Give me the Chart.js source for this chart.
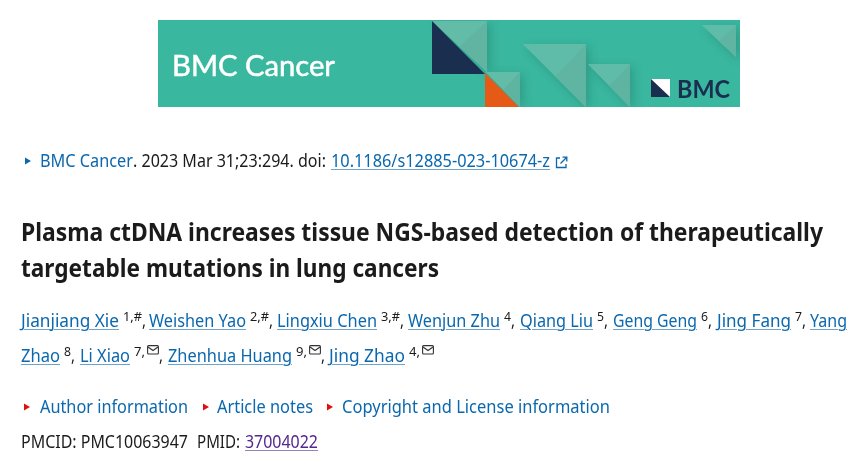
<!DOCTYPE html>
<html><head><meta charset="utf-8">
<style>
html,body{margin:0;padding:0;background:#fff;width:865px;height:456px;overflow:hidden}
#wrap{position:absolute;left:158px;top:20px;width:582px;height:87px;filter:blur(.35px)}
canvas{display:block}
.t{position:absolute;white-space:pre;transform-origin:0 0;font-family:"Noto Sans";color:#1b1b1b;font-size:17.5px;filter:blur(.25px)}
.l{color:#0b68ae}.u{text-decoration:underline;text-decoration-color:#6fa3cb;text-decoration-thickness:1px;text-underline-offset:2px}
.v{color:#54278f;text-decoration-color:#9a7fc0}
.b{font-weight:700;font-size:24.5px}.s{font-size:12.5px}
.w{color:#fff;font-family:Lato;font-size:29px;-webkit-text-stroke:.5px #fff}.n{color:#1a2e50;font-family:Lato;font-weight:700;font-size:25px}
svg{position:absolute}
</style></head><body>
<div id="wrap"><canvas id="c" width="582" height="87"></canvas></div>
<script src="https://cdn.jsdelivr.net/npm/chart.js@4"></script>
<script>
// Banner shapes, in banner units
const lightTop=[[274,1],[329,1],[329,52]];
const darkTop=[[329,1],[329,52],[302,26]];
const navy=[[274,1],[274,54],[327,54]];
const lightSmall=[[328,52],[362,52],[362,87]];
const darkSmall=[[362,52],[362,87],[345,70]];
const orange=[[327,53],[327,87],[361,87]];
const lightB=[[365,24],[428,24],[428,87]];
const darkB=[[428,24],[428,87],[397,56]];
const lightC=[[430,44],[472,44],[472,87]];
const darkC=[[472,44],[472,87],[451,66]];
const lightD=[[544,5],[578,5],[578,37]];
const darkD=[[578,5],[578,37],[561,21]];
const logoWhite=[[493,59],[512,59],[512,77],[493,77]];
const logoNavy=[[493,59],[493,77],[512,77]];
// Paint order, back to front; the chart paints the first dataset last
const shapes=[
 [lightTop,'#63bca8',1],[darkTop,'#61b4a1',0],[navy,'#1a2e50',0],
 [lightB,'#5fbca8',1],[darkB,'#5fb5a2',0],[lightC,'#5fbca8',1],[darkC,'#5fb4a1',0],
 [lightD,'#5fbca8',1],[darkD,'#5fb5a2',0],[lightSmall,'#63bca8',1],[darkSmall,'#5fb4a1',0],[orange,'#e55a17',0],
 [logoWhite,'#ffffff',0],[logoNavy,'#1a2e50',0]
].reverse();
const softShadow={id:'softShadow',
 beforeDraw(c){const x=c.ctx;x.fillStyle='#3ab79f';x.fillRect(0,0,582,87);
  x.save();x.shadowColor='rgba(20,90,75,.3)';x.shadowBlur=10;x.shadowOffsetX=3;x.shadowOffsetY=3;x.fillStyle='#5fbca8';
  shapes.filter(s=>s[2]).forEach(([pts])=>{x.beginPath();pts.forEach((p,i)=>{const a=c.scales.x.getPixelForValue(p[0]),b=c.scales.y.getPixelForValue(p[1]);i?x.lineTo(a,b):x.moveTo(a,b);});x.closePath();x.fill();});
  x.restore();}};
new Chart(document.getElementById('c'),{type:'scatter',
 data:{datasets:shapes.map(([pts,col])=>({data:pts.concat([pts[0]]).map(p=>({x:p[0],y:p[1]})),showLine:true,fill:'shape',backgroundColor:col,borderColor:col,borderWidth:0,pointRadius:0,tension:0}))},
 options:{responsive:false,animation:false,layout:{padding:0},
  plugins:{legend:{display:false},tooltip:{enabled:false}},
  scales:{x:{display:false,min:0,max:582},y:{display:false,min:0,max:87,reverse:true}}},
 plugins:[softShadow]});

// Text runs: text, left, baseline, width, classes
const runs=[
["BMC Cancer",172,76,163,"w"],["BMC",677,98,53,"n"],
["BMC Cancer",40,167,93,"l"],[". 2023 Mar 31;23:294. doi:",133,167,193,""],["10.1186/s12885-023-10674-z",331,167,219,"l u"],
["Plasma ctDNA increases tissue NGS-based detection of therapeutically",21,241,802,"b"],
["targetable mutations in lung cancers",21,277,418,"b"],
["Jianjiang Xie",21,327,98,"l u"],["1,#",123,321,19,"s"],[",",142,327,4,""],
["Weishen Yao",149,327,97,"l u"],["2,#",250,321,19,"s"],[",",269,327,4,""],
["Lingxiu Chen",277,327,100,"l u"],["3,#",381,321,19,"s"],[",",400,327,4,""],
["Wenjun Zhu",408,327,92,"l u"],["4",504,321,7,"s"],[",",511,327,4,""],
["Qiang Liu",520,327,73,"l u"],["5",597,321,7,"s"],[",",604,327,4,""],
["Geng Geng",613,327,84,"l u"],["6",701,321,7,"s"],[",",708,327,4,""],
["Jing Fang",717,327,74,"l u"],["7",795,321,7,"s"],[",",802,327,4,""],
["Yang",810,327,37,"l u"],
["Zhao",21,362,39,"l u"],["8",64,356,7,"s"],[",",71,362,4,""],
["Li Xiao",80,362,50,"l u"],["7,",134,356,11,"s"],[",",159,362,4,""],
["Zhenhua Huang",168,362,124,"l u"],["9,",296,356,11,"s"],[",",321,362,4,""],
["Jing Zhao",329,362,76,"l u"],["4,",409,356,11,"s"],
["Author information",40,413,148,"l"],["Article notes",217,413,96,"l"],["Copyright and License information",342,413,268,"l"],
["PMCID: PMC10063947",21,448,167,""],["PMID:",197,448,43,""],["37004022",245,448,73,"l u v"]
];
const markers=[[24,165,"#0b68ae"],[23,411,"#e01010"],[202,411,"#e01010"],[326,411,"#e01010"]];
const mailIcons=[[147,345],[309,345],[422,345]];
const linkIcons=[[555,156]];
const cv=document.createElement('canvas').getContext('2d');
function place(){
 for(const [txt,x,y,w,cls] of runs){
  const e=document.createElement('span');e.className='t '+cls;e.textContent=txt;document.body.appendChild(e);
  const cs=getComputedStyle(e);cv.font=cs.fontWeight+' '+cs.fontSize+' '+cs.fontFamily;
  const m=cv.measureText(txt);
  e.style.left=x+'px';e.style.top=(y-m.fontBoundingBoxAscent)+'px';e.style.lineHeight='normal';
  e.style.transform='scaleX('+(w/e.getBoundingClientRect().width)+')';
 }
 const ns='http://www.w3.org/2000/svg';
 const icon=(x,y,w,h,html)=>{const s=document.createElementNS(ns,'svg');s.setAttribute('width',w);s.setAttribute('height',h);s.style.left=x+'px';s.style.top=y+'px';s.innerHTML=html;document.body.appendChild(s);};
 for(const [x,y,c] of markers) icon(x,y-9,8,10,`<path d="M1 1.5L7 5L1 8.5Z" fill="${c}"/>`);
 for(const [x,y] of mailIcons) icon(x,y,12,10,'<rect x=".6" y=".6" width="10.8" height="8.4" rx="1" fill="none" stroke="#333" stroke-width="1.1"/><path d="M1 2L6 5.5L11 2" fill="none" stroke="#333" stroke-width="1.1"/>');
 for(const [x,y] of linkIcons) icon(x,y,13,13,'<path d="M5 2H1.5V11.5H11V8M7.5 1.2H11.8V5.5M11.5 1.5L5.5 7.5" fill="none" stroke="#0b68ae" stroke-width="1.3"/>');
}
place();
</script>
</body></html>
